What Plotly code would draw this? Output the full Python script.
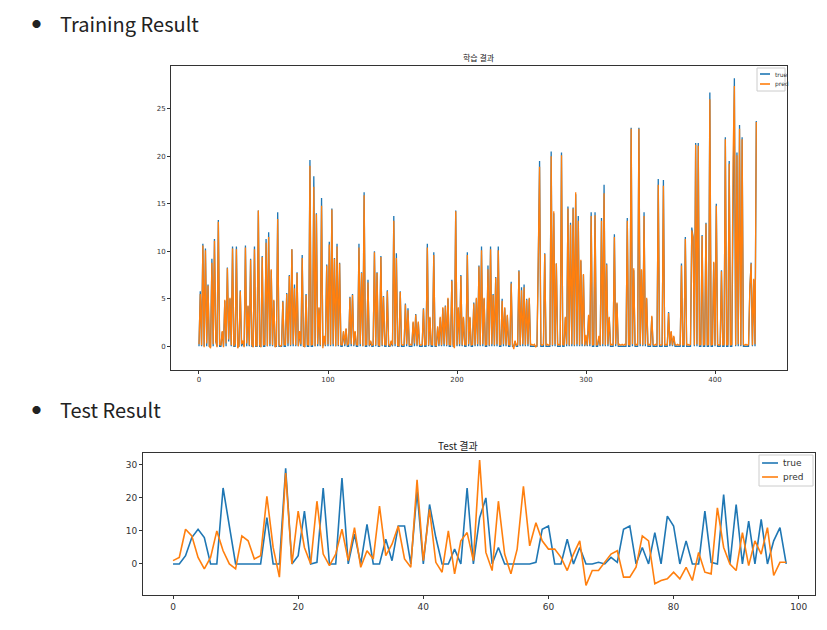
import plotly.graph_objects as go

# training set (433 samples)
train_true = [
    0, 5.8, 0, 10.8, 0, 10.3, 0, 6.5, 0, 0, 9.2, 0, 11.3, 0.5, 0, 13.3, 0, 0, 1.5, 0,
    4.8, 0, 8.3, 0.5, 5, 0, 10.5, 0, 0, 10.5, 0, 0, 5.9, 0, 0.5, 0, 10.6, 0, 4.2, 0,
    9.2, 0, 0, 10.5, 0, 0, 14.3, 0, 0, 9.5, 0, 0, 11.3, 0, 12, 0, 8, 0, 4.8, 0,
    0, 14.1, 0, 0, 0, 4.8, 0, 0, 5.6, 0, 7.5, 0, 10.2, 0, 6.5, 0, 7.8, 0, 1.5, 0,
    9.6, 0, 0, 5.5, 0, 0, 19.6, 0, 0, 17.9, 0, 14, 0, 4, 0, 15.6, 0, 1, 0, 8.6,
    0, 11, 0, 14.5, 0, 9.3, 0, 10.8, 0, 8.8, 0, 0, 1.5, 0, 1.8, 0, 0, 5.2, 0, 5.5,
    0, 1.5, 0, 0, 10.8, 0, 7.8, 0, 16.2, 0, 0, 7, 0, 0.5, 0, 0, 10, 0, 7.8, 0,
    0, 9.5, 0, 5.3, 0, 0, 5.9, 0, 0, 0.5, 0, 13.7, 0, 9.8, 0, 0, 5.8, 0, 0, 0,
    4.5, 0, 4, 0, 0, 0, 2.5, 0, 3.4, 0, 2.5, 0, 0, 0, 4, 0, 0, 10.8, 0, 3,
    0, 0, 9.9, 0, 0, 2, 0, 3, 0, 4, 0, 4.3, 0, 5, 0, 0, 7, 0, 0, 14.3,
    0, 4, 0, 7.5, 0, 3, 0, 0, 9.9, 0, 3, 0, 0, 4.6, 0, 5, 0, 8.5, 0, 10.5,
    0, 5, 0, 0, 8.5, 0, 10.5, 0, 5.5, 0, 7.3, 0, 10.5, 0, 0, 5, 0, 4, 0, 3.2,
    0, 0, 6.8, 0, 0, 0.5, 0, 0, 8, 0, 6.2, 0, 6.5, 0, 5, 0, 5, 0, 0, 0,
    0, 0, 0, 8.7, 19.5, 0, 0, 0, 9.8, 0, 0, 0, 0, 20.5, 0, 14, 0, 8.7, 0, 0,
    0, 20.4, 0, 0, 3, 0, 14.7, 0, 13, 0, 14.6, 0, 16, 0, 13.7, 0, 9, 0, 7.5, 0,
    1, 0, 3.2, 0, 14.1, 0, 0, 14.1, 0, 0, 1, 0, 13.5, 0, 17, 0, 8.7, 0, 3, 0,
    0, 0, 11.8, 0, 4.5, 0, 0, 0, 0, 0, 0, 0, 13.5, 0, 0, 23, 0, 8, 0, 0,
    0, 23, 0, 8, 0, 14.1, 0, 5, 0, 0, 0, 3.1, 0, 0, 0, 0, 17.6, 0, 0, 0,
    17.5, 0, 0, 0, 3.6, 0, 1.5, 0, 1, 0, 0, 0, 0, 0, 8.7, 0, 0, 11.5, 0, 0,
    0, 0, 12.5, 11.5, 0, 21.4, 0, 21.4, 0, 0, 11.7, 0, 0, 13, 0, 0, 26.7, 0, 0, 8.8,
    0, 15, 0, 0, 0, 8, 0, 0, 22, 0, 0, 19.5, 0, 0, 13, 28.2, 0, 20.4, 0, 23.3,
    0, 22, 0, 0, 0, 0, 0, 6, 8.8, 0, 7, 0, 23.7,
]
train_pred = [
    0.2, 5.5, 0.1, 10.6, -0.1, 10.1, 0.3, 6.4, 0, -0.2, 8.8, 0.2, 11.1, 0.6, -0.1, 13.1, 0.2, 0.1, 1.6, -0.1,
    4.9, 0.3, 8.2, 0.7, 5.1, 0.1, 10.3, 0, 0.3, 10.2, -0.2, 0.1, 5.8, 0.2, 0.6, -0.1, 10.4, 0.3, 4.3, 0.1,
    9.1, 0.2, -0.1, 10.2, 0.1, 0, 14.3, 0.2, -0.1, 9.4, 0.1, 0.2, 10.9, 0, 11.5, 0.2, 8.1, 0.1, 4.9, -0.1,
    0.1, 13.4, 0.2, 0, 0.1, 4.7, 0.2, 0.1, 5.5, 0.3, 7.4, 0.1, 10.2, 0.2, 6.1, 0.1, 7.7, 0, 1.6, 0.2,
    9.3, 0.1, -0.1, 5.4, 0.2, 0.1, 19, 0.1, 0.2, 16.8, 0, 13.9, 0.2, 4.1, 0.1, 14.8, -0.2, 1.1, 0.1, 8.5,
    0.2, 10.7, 0.1, 14.4, 0.2, 9.2, 0, 10.5, 0.1, 8.7, 0.2, 0.1, 1.6, 0.2, 1.9, 0.1, 0.3, 5.1, 0.2, 5.4,
    0.1, 1.6, 0.2, 0.1, 10.4, 0.2, 7.7, 0, 15.9, 0.1, 0.2, 6.7, 0.1, 0.6, 0.1, 0.2, 9.9, 0.1, 7.7, 0.2,
    0, 9.4, 0.1, 5.2, 0.2, 0.1, 5.8, 0.2, 0, 0.6, 0.1, 13.2, 0.2, 9.3, 0.1, 0, 5.7, 0.2, 0.1, 0.2,
    4.4, 0.2, 3.8, 0.1, 0.2, 0.1, 2.6, 0.3, 3.3, 0.1, 2.6, 0.2, 0.1, 0.2, 3.9, 0.1, 0.2, 10.4, 0.1, 3.1,
    0.2, 0.1, 9.6, 0.2, 0, 2.1, 0.2, 3.1, 0.1, 4.1, 0.2, 4.2, 0.1, 5.1, 0.2, 0.1, 6.9, 0.2, -0.2, 14.2,
    0.1, 4.1, 0.2, 7.4, 0.1, 3.1, 0.2, 0.1, 9.6, 0.2, 3.1, 0.1, 0.2, 4.5, 0.1, 5.1, 0.2, 8.4, 0.1, 10.1,
    0.2, 5.1, 0.1, 0.2, 8.1, 0.1, 10.2, 0.2, 5.4, 0.1, 7.2, 0.2, 10.1, 0.1, 0.2, 4.8, 0.2, 4.1, 0.1, 3.3,
    0.2, 0.1, 6.6, 0.2, -0.3, 0.6, 0.1, 0.2, 7.9, 0.1, 5.9, 0.2, 6.2, 0.1, 4.9, 0.2, 5.1, 0.1, 0.2, 0.1,
    0.2, -0.1, 0.1, 8.5, 18.9, 0.2, 0.1, 0.2, 9.7, 0.1, 0.2, 0.1, 0.2, 20, 0.1, 14.2, 0.2, 8.7, 0.1, 0.2,
    0.1, 20.1, 0.2, 0.1, 3.1, 0.2, 14.5, 0.1, 12.8, 0.2, 14.5, 0.1, 16.2, 0.2, 13.2, 0.1, 9.1, 0.2, 7.6, 0.1,
    1.2, 0.1, 3.3, 0.2, 13.7, 0.1, 0.2, 13.8, 0.1, 0.2, 1.1, 0.1, 13.2, 0.2, 16.1, 0.1, 8.6, 0.2, 3.1, 0.1,
    0.2, 0.1, 11.5, 0.2, 4.6, 0.1, 0.2, 0.1, 0.2, 0.1, 0.2, 0.1, 13.2, 0.2, 0.1, 22.9, 0.2, 8.2, 0.1, 0.2,
    0.1, 22.9, 0.2, 8.1, 0.1, 13.7, 0.2, 5.1, 0.1, 0.2, 0.1, 3.2, 0.2, 0.1, 0.2, 0.1, 17, 0.2, 0.1, 0.2,
    16.9, 0.1, 0.2, 0.1, 3.5, 0.2, 1.6, 0.1, 1.1, 0.2, 0.1, 0.2, 0.1, 0.2, 8.5, 0.1, 0.2, 11.3, 0.1, 0.2,
    0.1, 0.2, 12.2, 11.4, 0.1, 21.2, 0.2, 21.1, 0.1, 0.2, 11.6, 0.1, 0.2, 12.9, 0.1, 0.2, 26, 0.1, 0.2, 8.9,
    0.1, 14.8, 0.2, 0.1, 0.2, 7.9, 0.1, 0.2, 21.8, 0.1, 0.2, 19.2, 0.1, 0.2, 19.8, 27.4, 0.1, 20.1, 0.2, 22.9,
    0.1, 21.8, 0.2, 0.1, 0.2, 0.1, 0.2, 6.2, 8.7, 0.1, 7.1, 0.2, 23.6,
]

# test set (99 samples)
test_true = [
    0, 0, 2.5, 8, 10.5, 8, 0, 0, 23, 12, 0, 0, 0, 0, 0, 14, 0, 0, 29, 0,
    2.5, 16, 0, 0.5, 23, 0, 0, 26, 0, 9, 0, 12, 0, 0, 7.5, 1, 11.5, 11.5, 0, 22,
    0, 18, 8, 0, 0, 4.5, 0, 23, 0, 14, 20, 0, 5, 0, 0, 0, 0, 0, 0.5, 10.5,
    11.5, 0, 0, 7.5, 0, 5, 0, 0, 0.5, 0, 2, 0.5, 10.5, 11.5, 0, 5, 0, 9.5, 0, 14.5,
    11.5, 0, 7, 0, 0, 16, 0.5, 0, 21, 0, 18, 0, 13, 0, 13.5, 0, 7, 11, 0,
]
test_pred = [
    1, 2, 10.5, 8.5, 2, -1.5, 2, 10, 4, 0, -1.5, 8.5, 7, 1.5, 2.5, 20.5, 5, -4, 27.5, 0,
    16, 5, 0, 19, 3, -0.5, 3, 10.5, 1, 11, -1, 4, 1.5, 17.5, 2.5, 6, 11.5, 1.5, -1, 25.5,
    1, 16.5, 0.5, -2.5, 10, -3, 7, 9.5, 1, 31.5, 3.5, -2, 19, 3, -3, 4.5, 23.5, 5.5, 12.5, 7,
    4.5, 4.5, 2, -2, 3, 7, -6.5, -2, -2, 0.5, 3, 4, -4, -4, -1, 8.5, 7, -6, -5, -4.5,
    -2.5, -4.5, -1, -5, 3.5, -2.5, -3, 17, 5, 0, -2, 9.5, -0.5, 7, 3, 11, -3.5, 0.5, 0.5,
]

BLUE = "#1f77b4"
ORANGE = "#ff7f0e"
W, H = 819, 622  # page has an 8px body margin
OFF = 8


def px(x):
    return (x - OFF) / W


def py(y):
    return 1 - (y - OFF) / H


fig = go.Figure()
fig.add_trace(go.Scatter(x=list(range(len(train_true))), y=train_true, name="true",
                         mode="lines", line=dict(color=BLUE, width=1.3), xaxis="x", yaxis="y"))
fig.add_trace(go.Scatter(x=list(range(len(train_pred))), y=train_pred, name="pred",
                         mode="lines", line=dict(color=ORANGE, width=1.3), xaxis="x", yaxis="y"))
fig.add_trace(go.Scatter(x=list(range(len(test_true))), y=test_true, name="true",
                         mode="lines", line=dict(color=BLUE, width=1.6), xaxis="x2", yaxis="y2"))
fig.add_trace(go.Scatter(x=list(range(len(test_pred))), y=test_pred, name="pred",
                         mode="lines", line=dict(color=ORANGE, width=1.6), xaxis="x2", yaxis="y2"))

ax = dict(showgrid=False, zeroline=False, showline=True, mirror=True, linecolor="#333",
          linewidth=1, ticks="outside", ticklen=3, tickcolor="#333")

fig.update_layout(
    width=W, height=H, margin=dict(l=0, r=0, t=0, b=0),
    paper_bgcolor="white", plot_bgcolor="white", showlegend=False,
    font=dict(family="DejaVu Sans", color="#333"),
    xaxis=dict(ax, domain=[px(171), px(787)], range=[-21.7, 455.8], tickvals=[0, 100, 200, 300, 400],
               tickfont=dict(size=7), anchor="y"),
    yaxis=dict(ax, domain=[py(370), py(66)], range=[-2.5, 29.5], tickvals=[0, 5, 10, 15, 20, 25],
               tickfont=dict(size=7), anchor="x"),
    xaxis2=dict(ax, domain=[px(143), px(815)], range=[-4.8, 102.6], tickvals=[0, 20, 40, 60, 80, 100],
                tickfont=dict(size=9), anchor="y2"),
    yaxis2=dict(ax, domain=[py(595), py(453)], range=[-9.4, 33.6], tickvals=[0, 10, 20, 30],
                tickfont=dict(size=9), anchor="x2"),
)

texts = [
    dict(x=36, y=24, text="●", size=9, anchor="center"),
    dict(x=58, y=24, text="Training Result", size=20, anchor="left"),
    dict(x=36, y=409, text="●", size=9, anchor="center"),
    dict(x=58, y=409, text="Test Result", size=20, anchor="left"),
    dict(x=479, y=58, text="학습 결과", size=8, anchor="center"),
    dict(x=458, y=445, text="Test 결과", size=10, anchor="center"),
]
for t in texts:
    fig.add_annotation(x=px(t["x"]), y=py(t["y"]), xref="paper", yref="paper", text=t["text"],
                       showarrow=False, xanchor=t["anchor"], yanchor="middle",
                       font=dict(size=t["size"], color="#222", family="Noto Sans CJK KR"))

# matplotlib-style legends
legends = [
    dict(box=(757, 68, 785, 91), size=6, rows=[(74, "true", BLUE), (84, "pred", ORANGE)], seg=10),
    dict(box=(759, 455, 813, 486), size=9, rows=[(463, "true", BLUE), (477, "pred", ORANGE)], seg=16),
]
for lg in legends:
    x0, y0, x1, y1 = lg["box"]
    fig.add_shape(type="rect", xref="paper", yref="paper", x0=px(x0), x1=px(x1), y0=py(y1), y1=py(y0),
                  line=dict(color="#ccc", width=1), fillcolor="white")
    for yy, label, col in lg["rows"]:
        fig.add_shape(type="line", xref="paper", yref="paper", x0=px(x0 + 3), x1=px(x0 + 3 + lg["seg"]),
                      y0=py(yy), y1=py(yy), line=dict(color=col, width=1.6))
        fig.add_annotation(x=px(x0 + 6 + lg["seg"]), y=py(yy), xref="paper", yref="paper", text=label,
                           showarrow=False, xanchor="left", yanchor="middle",
                           font=dict(size=lg["size"], color="#333"))

fig.write_html("out.html")
